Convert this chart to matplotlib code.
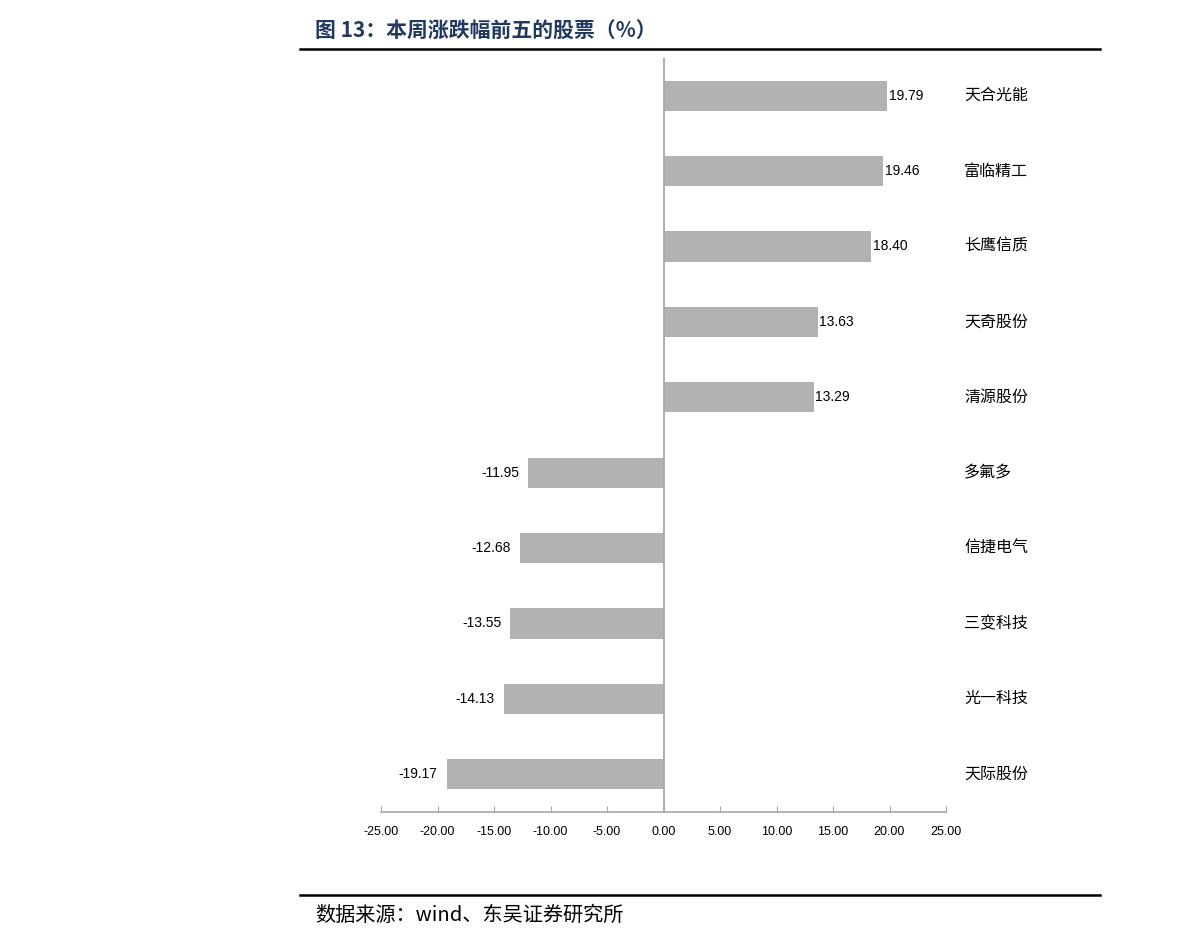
import matplotlib
matplotlib.use("Agg")
import matplotlib.pyplot as plt

plt.rcParams['font.family'] = ['Noto Sans CJK SC', 'DejaVu Sans']

stocks = ["天合光能", "富临精工", "长鹰信质", "天奇股份", "清源股份",
          "多氟多", "信捷电气", "三变科技", "光一科技", "天际股份"]
changes = [19.79, 19.46, 18.40, 13.63, 13.29,
           -11.95, -12.68, -13.55, -14.13, -19.17]
xticks = [-25, -20, -15, -10, -5, 0, 5, 10, 15, 20, 25]

title = "图 13：本周涨跌幅前五的股票（%）"
source = "数据来源：wind、东吴证券研究所"

W, H = 1191, 946
fig = plt.figure(figsize=(W / 100, H / 100), dpi=100)
ax = fig.add_axes([381 / W, 1 - 812 / H, (946 - 381) / W, (812 - 58) / H])

ypos = list(range(len(stocks)))
ax.barh(ypos, changes, height=0.4, color="#B2B2B2", zorder=2)
ax.set_ylim(len(stocks) - 0.5, -0.5)
ax.set_xlim(-25, 25)
ax.set_xticks(xticks)
ax.set_xticklabels([f"{v:.2f}" for v in xticks], fontsize=9,
                   family=['Liberation Sans', 'DejaVu Sans'])
ax.set_yticks([])
for s in ["top", "right", "left"]:
    ax.spines[s].set_visible(False)
ax.spines["bottom"].set_color("#A6A6A6")
ax.spines["bottom"].set_linewidth(1.2)
ax.tick_params(axis="x", direction="in", length=4, color="#A6A6A6", pad=10)
ax.axvline(0, color="#A6A6A6", lw=1.3, zorder=3)

for y, v, name in zip(ypos, changes, stocks):
    if v >= 0:
        ax.text(v + 0.15, y, f"{v:.2f}", ha="left", va="center", fontsize=10,
                family=['Liberation Sans', 'DejaVu Sans'])
    else:
        ax.text(v - 0.8, y, f"{v:.2f}", ha="right", va="center", fontsize=10,
                family=['Liberation Sans', 'DejaVu Sans'])
    ax.text(26.6, y, name, ha="left", va="center", fontsize=11.5, clip_on=False)

fig.text(315 / W, 1 - 31 / H, title, ha="left", va="center", fontsize=15,
         fontweight="bold", color="#1F3864")
fig.add_artist(plt.Line2D([300 / W, 1100 / W], [1 - 49 / H, 1 - 49 / H],
                          color="black", lw=1.8))
fig.add_artist(plt.Line2D([300 / W, 1100 / W], [1 - 895 / H, 1 - 895 / H],
                          color="black", lw=1.8))
fig.text(315 / W, 1 - 915 / H, source, ha="left", va="center", fontsize=14.5,
         color="black")

fig.savefig("out.png", dpi=100)
